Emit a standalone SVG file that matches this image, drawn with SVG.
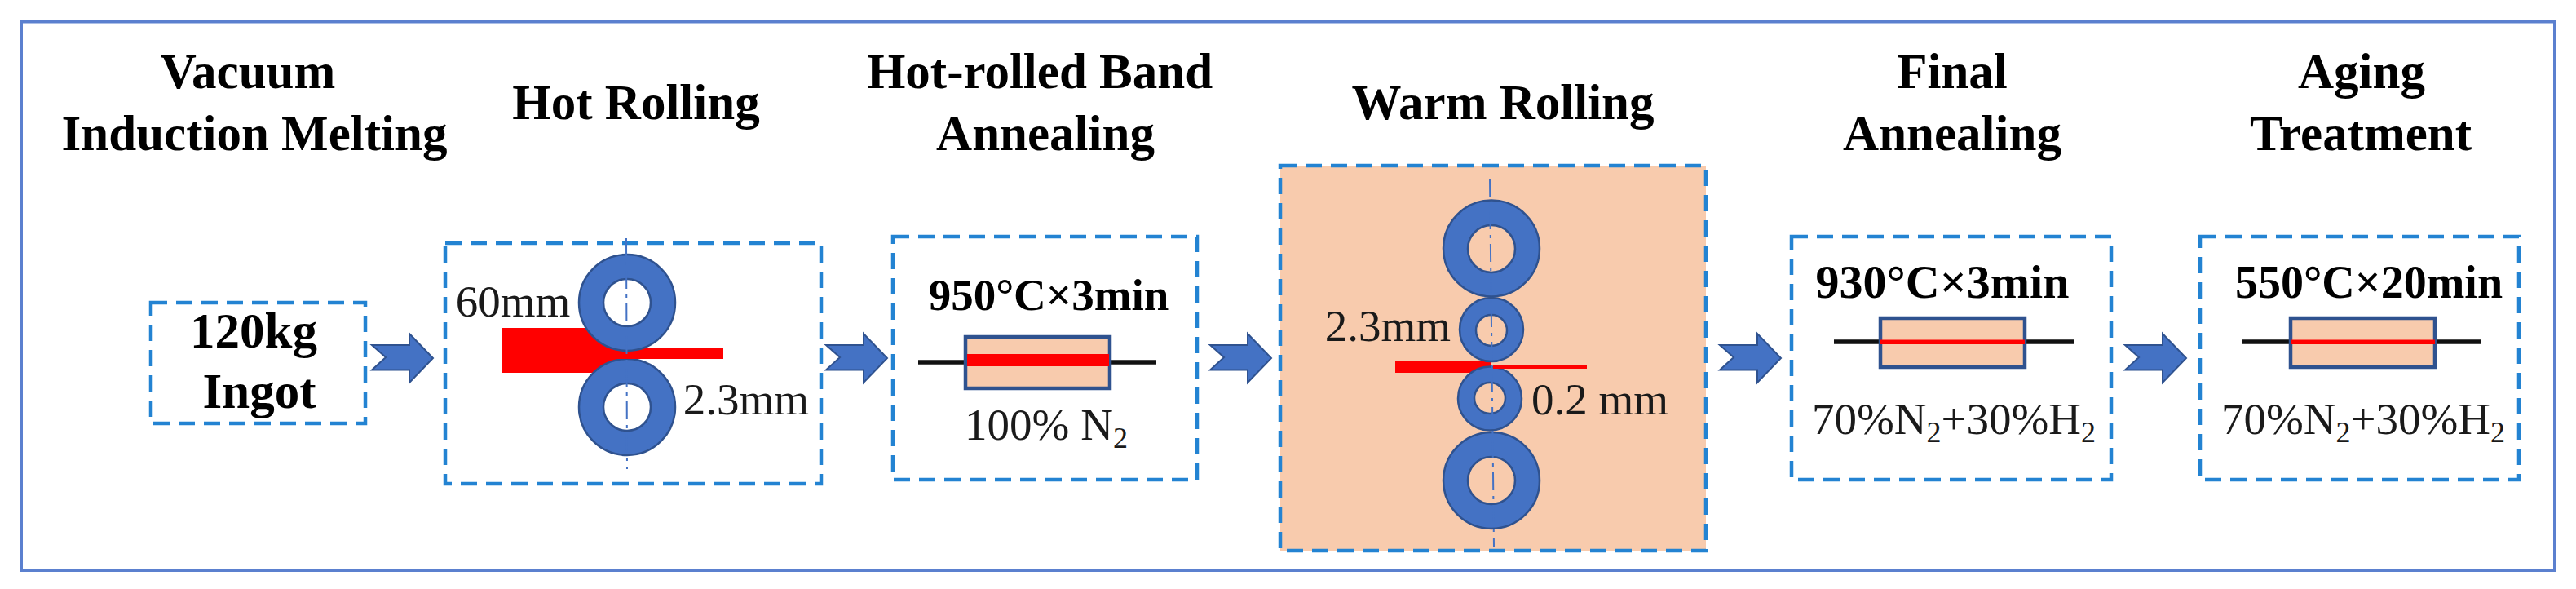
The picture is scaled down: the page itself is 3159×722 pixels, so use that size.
<svg xmlns="http://www.w3.org/2000/svg" xmlns:xlink="http://www.w3.org/1999/xlink" width="3159" height="722" viewBox="0 0 3159 722">
<style>
text{font-family:"Liberation Serif","Times New Roman",serif;fill:#000;text-anchor:middle}
.t{font-size:61px;font-weight:bold}
.b{font-weight:bold}
.r{font-size:55px;fill:#1a1a1a}
.s{font-size:36px}
.box{fill:none;stroke:#2383d2;stroke-width:4.5;stroke-dasharray:20 11}
.roll{fill:#4472c4;stroke:#2f528f;stroke-width:2.5}
.hole{fill:#fff;stroke:#2f528f;stroke-width:2.5}
.peach{fill:#f8cbad}
.cl{stroke:#4472c4;stroke-width:2;stroke-dasharray:22 7 4 7;fill:none}
.red{fill:#f00}
.oven{fill:#f8cbad;stroke:#2f528f;stroke-width:4.5}
.wire{stroke:#111;stroke-width:5.5}
.arrow{fill:#4472c4;stroke:#2f528f;stroke-width:2}
</style>
<defs>
<polygon id="arr" class="arrow" points="0,14 46,14 46,0 75,30 46,60 46,44.500 0,44.500 17,29"/>
</defs>
<rect x="26" y="26.500" width="3107" height="672.500" fill="#fff" stroke="#5b80cf" stroke-width="4"/>

<g id="connectors">
<use xlink:href="#arr" href="#arr" x="456" y="409"/>
<use xlink:href="#arr" href="#arr" x="1013" y="409"/>
<use xlink:href="#arr" href="#arr" x="1484" y="409"/>
<use xlink:href="#arr" href="#arr" x="2109" y="409"/>
<use xlink:href="#arr" href="#arr" x="2606" y="409"/>
</g>

<g id="vacuum-induction-melting">
<text class="t" x="304" y="108">Vacuum</text>
<text class="t" x="312" y="184">Induction Melting</text>
<rect class="box" x="185" y="371" width="263" height="148"/>
<text class="t" x="311" y="426">120kg</text>
<text class="t" x="318" y="500">Ingot</text>
</g>

<g id="hot-rolling">
<text class="t" x="780" y="146">Hot Rolling</text>
<rect class="box" x="546" y="298" width="461" height="295"/>
<path class="red" d="M615,402H760V426H887V440H760V457H615Z"/>
<ellipse class="roll" cx="769" cy="371" rx="59" ry="59"/>
<circle class="hole" cx="769" cy="371" r="29"/>
<ellipse class="roll" cx="769" cy="499" rx="59" ry="59"/>
<circle class="hole" cx="769" cy="499" r="29"/>
<path class="red" d="M745,432H795V440H745Z"/>
<line class="cl" x1="768" y1="292" x2="769" y2="575"/>
<text class="r" x="629" y="388">60mm</text>
<text class="r" x="915" y="508">2.3mm</text>
</g>

<g id="hot-rolled-band-annealing">
<text class="t" x="1275" y="108">Hot-rolled Band</text>
<text class="t" x="1282" y="184">Annealing</text>
<rect class="box" x="1095" y="290" width="373" height="298"/>
<text class="b" font-size="55" x="1286" y="380">950°C×3min</text>
<line class="wire" x1="1126" y1="444" x2="1418" y2="444"/>
<rect class="oven" x="1184" y="413" width="177" height="63"/>
<rect class="red" x="1186" y="434" width="174" height="15"/>
<text class="r" x="1283" y="539">100% N<tspan class="s" dy="10">2</tspan></text>
</g>

<g id="warm-rolling">
<text class="t" x="1843" y="146">Warm Rolling</text>
<rect class="peach" x="1570" y="203" width="522" height="472"/>
<rect class="box" x="1570" y="203" width="522" height="472"/>
<path class="red" d="M1711,442H1829V457H1711Z"/>
<ellipse class="roll" cx="1829" cy="304.500" rx="59" ry="59"/>
<circle class="hole peach" cx="1829" cy="305" r="29"/>
<ellipse class="roll" cx="1829" cy="404" rx="39" ry="39"/>
<circle class="hole peach" cx="1829" cy="405" r="19"/>
<ellipse class="roll" cx="1827" cy="488.500" rx="39" ry="39"/>
<circle class="hole peach" cx="1827" cy="488" r="19"/>
<ellipse class="roll" cx="1829" cy="589" rx="59" ry="59"/>
<circle class="hole peach" cx="1829" cy="589" r="29"/>
<path class="red" d="M1831,447.500H1946V452H1831Z"/>
<line class="cl" x1="1827" y1="219" x2="1832" y2="670"/>
<text class="r" x="1702" y="418">2.3mm</text>
<text class="r" x="1962" y="508">0.2 mm</text>
</g>

<g id="final-annealing">
<text class="t" x="2394" y="108">Final</text>
<text class="t" x="2394" y="184">Annealing</text>
<rect class="box" x="2197" y="290" width="392" height="298"/>
<text class="b" font-size="58" x="2382" y="365">930°C×3min</text>
<line class="wire" x1="2249" y1="419" x2="2543" y2="419"/>
<rect class="oven" x="2306" y="390" width="177" height="60"/>
<rect class="red" x="2306" y="416.500" width="177" height="5.500"/>
<text class="r" x="2396" y="532">70%N<tspan class="s" dy="10">2</tspan><tspan dy="-10">+30%H</tspan><tspan class="s" dy="10">2</tspan></text>
</g>

<g id="aging-treatment">
<text class="t" x="2896" y="108">Aging</text>
<text class="t" x="2895" y="184">Treatment</text>
<rect class="box" x="2698" y="290" width="391" height="298"/>
<text class="b" font-size="56" x="2905" y="365">550°C×20min</text>
<line class="wire" x1="2749" y1="419" x2="3043" y2="419"/>
<rect class="oven" x="2809" y="390" width="177" height="60"/>
<rect class="red" x="2809" y="416.500" width="177" height="5.500"/>
<text class="r" x="2898" y="532">70%N<tspan class="s" dy="10">2</tspan><tspan dy="-10">+30%H</tspan><tspan class="s" dy="10">2</tspan></text>
</g>
</svg>
